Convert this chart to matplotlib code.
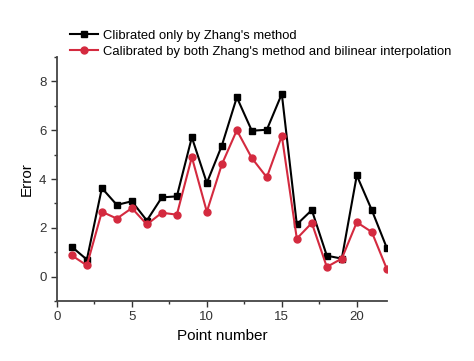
import matplotlib
matplotlib.use("Agg")
import matplotlib.pyplot as plt
from matplotlib.ticker import MultipleLocator

plt.rcParams['font.family'] = ['Liberation Sans', 'DejaVu Sans']

points = list(range(1, 23))
zhang_only = [1.22, 0.70, 3.63, 2.94, 3.09, 2.30, 3.25, 3.29, 5.71, 3.84, 5.37,
              7.35, 5.98, 6.02, 7.49, 2.14, 2.73, 0.86, 0.74, 4.15, 2.73, 1.18]
zhang_bilinear = [0.87, 0.46, 2.66, 2.38, 2.81, 2.14, 2.62, 2.54, 4.90, 2.66, 4.60,
                  6.00, 4.86, 4.07, 5.77, 1.56, 2.20, 0.40, 0.74, 2.23, 1.83, 0.32]
labels = ["Clibrated only by Zhang's method",
          "Calibrated by both Zhang's method and bilinear interpolation"]

red = "#d42a3f"
fig = plt.figure(figsize=(4.74, 3.61), dpi=100)
ax = fig.add_axes([0.120, 0.166, 0.696, 0.676])

ax.plot(points, zhang_only, color="black", lw=1.5, marker="s", ms=4.5,
        label=labels[0])
ax.plot(points, zhang_bilinear, color=red, lw=1.5, marker="o", ms=5,
        label=labels[1])

ax.set_xlim(0, 22)
ax.set_ylim(-1, 9)
ax.xaxis.set_major_locator(MultipleLocator(5))
ax.xaxis.set_minor_locator(MultipleLocator(2.5))
ax.yaxis.set_major_locator(MultipleLocator(2))
ax.yaxis.set_minor_locator(MultipleLocator(1))
ax.tick_params(which="major", direction="out", length=4, width=1, labelsize=9.5,
               colors="#333333")
ax.tick_params(which="minor", direction="out", length=2.5, width=1, colors="#333333")
for side in ("top", "right"):
    ax.spines[side].set_visible(False)
for side in ("left", "bottom"):
    ax.spines[side].set_linewidth(1.3)
    ax.spines[side].set_color("#444444")

ax.set_xlabel("Point number", fontsize=11)
ax.set_ylabel("Error", fontsize=11)

ax.legend(loc="lower left", bbox_to_anchor=(0.025, 0.975), frameon=False,
          fontsize=9.4, handlelength=2.1, handletextpad=0.4, labelspacing=0.3,
          borderaxespad=0)

fig.savefig("out.png", dpi=100)
